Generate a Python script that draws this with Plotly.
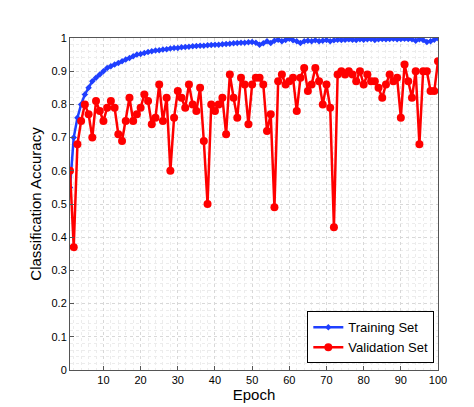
import plotly.graph_objects as go

epochs = list(range(1, 101))

training = [0.55, 0.70, 0.76, 0.80, 0.83, 0.85, 0.87, 0.88, 0.89, 0.90,
            0.91, 0.915, 0.92, 0.925, 0.93, 0.935, 0.94, 0.945, 0.95, 0.952,
            0.955, 0.958, 0.96, 0.962, 0.963, 0.965, 0.966, 0.968, 0.97, 0.97,
            0.972, 0.973, 0.974, 0.975, 0.976, 0.977, 0.977, 0.978, 0.979, 0.98,
            0.98, 0.981, 0.982, 0.983, 0.984, 0.985, 0.986, 0.986, 0.987, 0.988,
            0.986, 0.98, 0.984, 0.99, 0.985, 0.992, 0.995, 0.99, 0.994, 0.998,
            0.993, 0.99, 0.985, 0.99, 0.992, 0.99, 0.993, 0.99, 0.992, 0.994,
            0.99, 0.993, 0.995, 0.994, 0.995, 0.996, 0.995, 0.994, 0.996, 0.995,
            0.996, 0.997, 0.994, 0.996, 0.997, 0.996, 0.997, 0.998, 0.996, 0.997,
            0.998, 0.997, 0.996, 0.992, 0.996, 0.994, 0.988, 0.99, 0.995, 0.999]

validation = [0.60, 0.37, 0.68, 0.75, 0.80, 0.77, 0.70, 0.81, 0.78, 0.75,
              0.79, 0.81, 0.79, 0.71, 0.69, 0.75, 0.82, 0.75, 0.77, 0.79,
              0.83, 0.81, 0.74, 0.76, 0.86, 0.75, 0.82, 0.60, 0.76, 0.84,
              0.82, 0.79, 0.86, 0.80, 0.78, 0.85, 0.69, 0.50, 0.80, 0.78,
              0.80, 0.82, 0.71, 0.89, 0.82, 0.76, 0.88, 0.86, 0.74, 0.86,
              0.88, 0.88, 0.86, 0.72, 0.77, 0.49, 0.87, 0.89, 0.86, 0.87,
              0.88, 0.78, 0.88, 0.91, 0.84, 0.86, 0.91, 0.87, 0.80, 0.86,
              0.79, 0.43, 0.89, 0.90, 0.89, 0.90, 0.89, 0.87, 0.90, 0.86,
              0.89, 0.87, 0.87, 0.85, 0.82, 0.86, 0.89, 0.87, 0.88, 0.76,
              0.92, 0.87, 0.82, 0.90, 0.68, 0.90, 0.90, 0.84, 0.84, 0.93]

x_ticks = [10, 20, 30, 40, 50, 60, 70, 80, 90, 100]
y_ticks = [0, 0.1, 0.2, 0.3, 0.4, 0.5, 0.6, 0.7, 0.8, 0.9, 1]

fig = go.Figure()

fig.add_trace(go.Scatter(
    x=epochs, y=training, name='Training Set', mode='lines+markers',
    line=dict(color='#1f3fff', width=2.5),
    marker=dict(symbol='diamond', size=5, color='#1f3fff')
))
fig.add_trace(go.Scatter(
    x=epochs, y=validation, name='Validation Set', mode='lines+markers',
    line=dict(color='#ff0000', width=2.5),
    marker=dict(symbol='circle', size=8, color='#ff0000')
))

axis_common = dict(
    showline=True, linecolor='#555', linewidth=1, mirror=True,
    ticks='inside', ticklen=4, tickcolor='#555',
    showgrid=True, gridcolor='#d8d8d8', griddash='dot', gridwidth=1,
    minor=dict(showgrid=True, gridcolor='#ececec', griddash='dot'),
    zeroline=False, tickfont=dict(size=11, color='black'),
)

fig.update_xaxes(range=[1, 100], tickvals=x_ticks, minor_dtick=2,
                 title=dict(text='Epoch', font=dict(size=15), standoff=4),
                 **axis_common)
fig.update_yaxes(range=[0, 1], tickvals=y_ticks, ticktext=[f'{v:g}' for v in y_ticks],
                 minor_dtick=0.02,
                 title=dict(text='Classification Accuracy', font=dict(size=15), standoff=6),
                 **axis_common)

fig.update_layout(
    width=474, height=407,
    margin=dict(l=62, r=44, t=30, b=45),
    paper_bgcolor='white', plot_bgcolor='white',
    font=dict(family='Liberation Sans, Arial, sans-serif', color='black'),
    legend=dict(x=0.99, y=0.02, xanchor='right', yanchor='bottom',
                bgcolor='white', bordercolor='black', borderwidth=1,
                font=dict(size=13)),
)

fig.write_html('out.html')
